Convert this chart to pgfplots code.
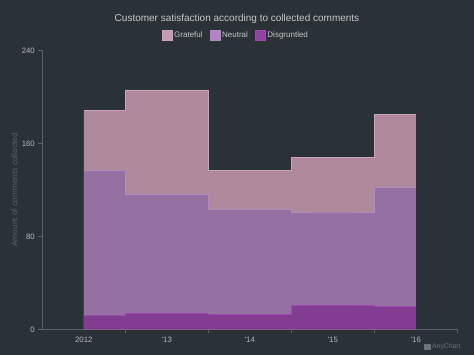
\documentclass[border=0pt]{standalone}
\usepackage{fontspec}
\setmainfont{Liberation Sans}
\usepackage{pgfplots}
\pgfplotsset{compat=1.18}
\usepackage{pgfplotstable}
\definecolor{bg}{HTML}{2A3137}
\definecolor{gfill}{HTML}{B08A9C}
\definecolor{gline}{HTML}{C9A2BC}
\definecolor{nfill}{HTML}{9571A3}
\definecolor{nline}{HTML}{B08BC0}
\definecolor{dfill}{HTML}{823D92}
\definecolor{dline}{HTML}{9A4BAE}
\definecolor{gsw}{HTML}{C79BB4}
\definecolor{nsw}{HTML}{B482C6}
\definecolor{dsw}{HTML}{8E42A1}
\definecolor{txt}{HTML}{C5C8CA}
\definecolor{tickc}{HTML}{B5B9BC}
\definecolor{axl}{HTML}{5A6167}
\definecolor{ylab}{HTML}{586066}
\definecolor{wm}{HTML}{6C7378}

\pgfplotstableread{
x d n g
0 12 125 51
1 14 102 90
2 13 90 34
3 21 80 47
4 20 102 63
}\data

\begin{document}
\begin{tikzpicture}[x=1pt,y=1pt]
\fill[bg] (0,0) rectangle (474,355);
\node[text=txt, font=\fontsize{10}{12}\selectfont] at (237,335.8) {Customer satisfaction according to collected comments};
\begin{axis}[
  at={(51,22)}, anchor=south west,
  scale only axis, width=415pt, height=279pt,
  xmin=-0.5, xmax=4.5, ymin=0, ymax=240,
  axis x line*=bottom, axis y line*=left,
  axis line style={-, draw=axl, line width=0.6pt},
  xtick={0,1,2,3,4},
  xticklabels={2012,\textquotesingle13,\textquotesingle14,\textquotesingle15,\textquotesingle16},
  minor xtick={0.5,1.5,2.5,3.5,4.5},
  major x tick style={draw=none},
  minor x tick style={draw=axl, line width=0.6pt},
  ytick={0,80,160,240},
  y tick style={draw=axl, line width=0.6pt},
  tick align=outside,
  major tick length=4pt, minor tick length=4pt,
  ticklabel style={text=tickc, font=\fontsize{7.8}{9}\selectfont},
  /pgf/number format/assume math mode=true,
  ylabel={Amount of comments collected},
  every axis y label/.style={at={(axis description cs:0,0.5)}, xshift=-28pt, rotate=90, anchor=center, text=ylab, font=\fontsize{8.3}{9}\selectfont},
  legend style={at={(0.5,1)}, anchor=center, yshift=15pt, xshift=-14pt, draw=none, fill=none,
    legend columns=3, text=txt, font=\fontsize{8}{9}\selectfont,
    /tikz/every even column/.append style={column sep=5pt}},
  legend image code/.code={\fill[#1] (0pt,-4.5pt) rectangle (10pt,5pt); \draw[#1, fill=none, line width=0.5pt] (0pt,-4.5pt) rectangle (10pt,5pt);},
]
\addlegendimage{fill=gsw, draw=gline}
\addlegendentry{Grateful}
\addlegendimage{fill=nsw, draw=nline}
\addlegendentry{Neutral}
\addlegendimage{fill=dsw, draw=dline}
\addlegendentry{Disgruntled}

\addplot[const plot mark mid, fill=gfill, draw=none, forget plot] table[x=x, y expr=\thisrow{d}+\thisrow{n}+\thisrow{g}] {\data} \closedcycle;
\addplot[const plot mark mid, fill=nfill, draw=none, forget plot] table[x=x, y expr=\thisrow{d}+\thisrow{n}] {\data} \closedcycle;
\addplot[const plot mark mid, fill=dfill, draw=none, forget plot] table[x=x, y=d] {\data} \closedcycle;

\addplot[const plot mark mid, draw=gline, line width=0.8pt, forget plot] table[x=x, y expr=\thisrow{d}+\thisrow{n}+\thisrow{g}] {\data};
\addplot[const plot mark mid, draw=nline, line width=0.8pt, forget plot] table[x=x, y expr=\thisrow{d}+\thisrow{n}] {\data};
\addplot[const plot mark mid, draw=dline, line width=0.8pt, forget plot] table[x=x, y=d] {\data};
\end{axis}
\fill[wm] (424,5) rectangle (430.5,11);
\node[text=wm, font=\fontsize{6.8}{8}\selectfont, anchor=west, inner sep=0pt] at (432,8) {AnyChart};
\pgfresetboundingbox
\path[use as bounding box] (0,0) rectangle (474,355);
\end{tikzpicture}
\end{document}
